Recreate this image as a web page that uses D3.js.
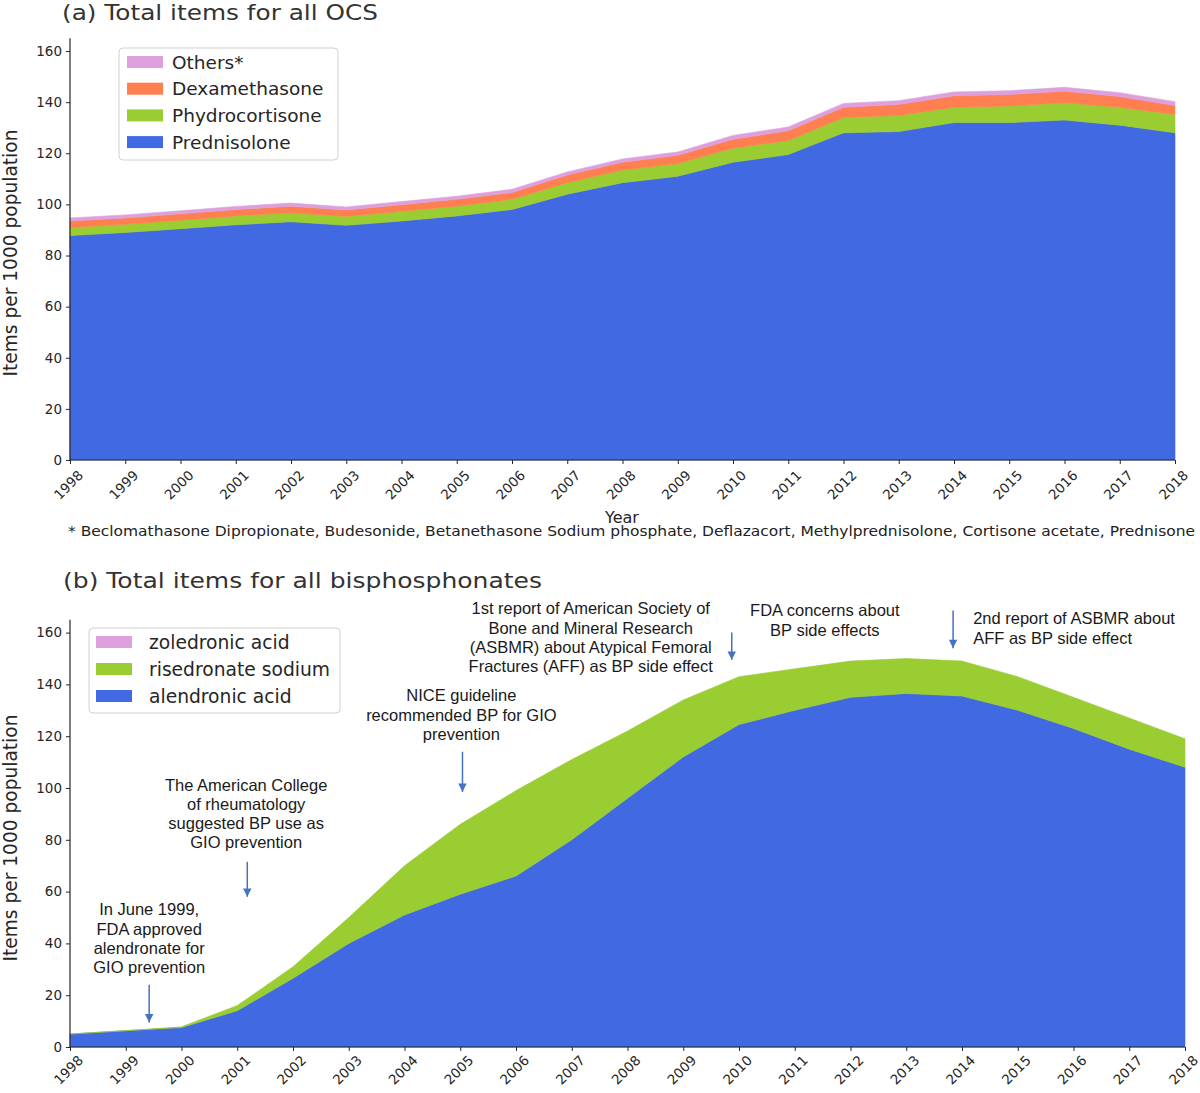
<!DOCTYPE html>
<html>
<head>
<meta charset="utf-8">
<script src="https://cdn.jsdelivr.net/npm/d3@7"></script>
<style>
  body { margin: 0; background: #fff; }
  .tick text { font-family: "DejaVu Sans", sans-serif; fill: #262626; }
  .tick line, .domain { stroke: #262626; }
  .note { font-family: "Liberation Sans", Arial, sans-serif; font-size: 16.5px; fill: #1a1a1a; }
</style>
</head>
<body>
<svg id="chart" width="1200" height="1093"></svg>
<script>
// ------------ DATA ------------
var years = [1998, 1999, 2000, 2001, 2002, 2003, 2004, 2005, 2006, 2007, 2008,
             2009, 2010, 2011, 2012, 2013, 2014, 2015, 2016, 2017, 2018];
var yTicks = [0, 20, 40, 60, 80, 100, 120, 140, 160];

// (a) oral corticosteroids, items per 1000 population
var prednisolone   = [87.8, 89, 90.5, 92, 93.2, 91.8, 93.5, 95.5, 98, 104, 108.5, 111, 116.5, 119.5, 128, 128.5, 132, 132, 133, 131, 128];
var phydrocortisone = [3.2, 3.2, 3.3, 3.5, 3.5, 3.5, 3.8, 3.8, 4, 4.5, 5, 5, 5.5, 5.5, 6, 6.3, 6, 6.5, 6.8, 7, 7.2];
var dexamethasone  = [2.5, 2.5, 2.5, 2.5, 2.6, 2.5, 2.6, 2.7, 2.7, 3, 3, 3.2, 3.5, 3.8, 4, 4.3, 4.5, 4.5, 4.5, 4.2, 3.5];
var othersOcs      = [1.2, 1.2, 1.2, 1.2, 1.2, 1.2, 1.2, 1.2, 1.2, 1.2, 1.3, 1.3, 1.5, 1.5, 1.5, 1.5, 1.5, 1.5, 1.5, 1.5, 1.5];

// (b) bisphosphonates, items per 1000 population
var alendronic  = [5, 6.3, 7.5, 14, 26.5, 40, 51, 59, 66, 80, 96, 112, 124.5, 130, 135, 136.5, 135.5, 130, 123, 115, 108];
var risedronate = [0, 0, 0.3, 2, 4.5, 10, 19, 27, 33, 31, 26, 22, 18.5, 16, 14, 13.5, 13.5, 13, 12, 12, 11];
var zoledronic  = [0, 0, 0, 0, 0, 0, 0, 0, 0, 0, 0, 0, 0, 0, 0, 0, 0, 0, 0, 0, 0];

var ocsKeys = ["Prednisolone", "Phydrocortisone", "Dexamethasone", "Others*"];
var bpKeys = ["alendronic acid", "risedronate sodium", "zoledronic acid"];

// event notes for panel (b)
var eventYears = [1999.42, 2001.18, 2005.04, 2009.87, 2013.84];
var noteLines = [
  ["In June 1999,", "FDA approved", "alendronate for", "GIO prevention"],
  ["The American College", "of rheumatology", "suggested BP use as", "GIO prevention"],
  ["NICE guideline", "recommended BP for GIO", "prevention"],
  ["1st report of American Society of", "Bone and Mineral Research", "(ASBMR) about Atypical Femoral", "Fractures (AFF) as BP side effect"],
  ["FDA concerns about", "BP side effects"],
  ["2nd report of ASBMR about", "AFF as BP side effect"]
];

var footnote = "* Beclomathasone Dipropionate, Budesonide, Betanethasone Sodium phosphate, Deflazacort, Methylprednisolone, Cortisone acetate, Prednisone";

// ------------ FORMATTING ------------
var ocsColors = ["#4169E1", "#9ACD32", "#FF7F50", "#DDA0DD"];
var bpColors = ["#4169E1", "#9ACD32", "#DDA0DD"];
var svg = d3.select("#chart");

function buildRows(cols, keys) {
  return years.map(function(y, i) {
    var row = { year: y };
    keys.forEach(function(k, j) { row[k] = cols[j][i]; });
    return row;
  });
}

function drawPanel(opts) {
  var colors = opts.colors;
  var x = d3.scaleLinear().domain([1998, 2018]).range([opts.left, opts.right]);
  var y = d3.scaleLinear().domain([0, 165]).range([opts.bottom, opts.bottom - 165 * opts.unit]);
  var rows = buildRows(opts.cols, opts.keys);
  var series = d3.stack().keys(opts.keys)(rows);

  var area = d3.area()
    .x(function(d) { return x(d.data.year); })
    .y0(function(d) { return y(d[0]); })
    .y1(function(d) { return y(d[1]); });

  svg.append("g").selectAll("path")
    .data(series)
    .enter()
    .append("path")
      .attr("d", area)
      .attr("fill", function(d, i) { return colors[i]; })
      .attr("stroke", function(d, i) { return colors[i]; })
      .attr("stroke-width", function(d) {
        return d3.max(d, function(p) { return p[1] - p[0]; }) > 0 ? 0.6 : 0;
      });

  // Left axis
  var leftAxis = d3.axisLeft(y).tickValues(yTicks).tickSize(4).tickPadding(4);
  var gl = svg.append("g")
    .attr("transform", "translate(" + opts.left + ",0)")
    .call(leftAxis);
  gl.select(".domain").attr("d", "M0," + y(165) + "V" + y(0)).attr("stroke-width", 1.2);
  gl.selectAll(".tick text").attr("font-size", "13.5px");

  // Bottom axis
  var bottomAxis = d3.axisBottom(x).tickValues(years).tickFormat(d3.format("d")).tickSize(4);
  var gb = svg.append("g")
    .attr("transform", "translate(0," + opts.bottom + ")")
    .call(bottomAxis);
  gb.select(".domain").attr("d", "M" + opts.left + ",0H" + opts.right).attr("stroke-width", 1.2);
  gb.selectAll(".tick text")
    .attr("font-size", "13.5px")
    .attr("y", 0).attr("dy", "0.35em")
    .attr("text-anchor", "middle")
    .attr("transform", "translate(-2," + opts.labelDrop + ") rotate(-45)");

  // y label
  svg.append("text")
    .attr("transform", "translate(17," + opts.yLabelMid + ") rotate(-90)")
    .attr("text-anchor", "middle")
    .attr("font-family", "DejaVu Sans, sans-serif")
    .attr("font-size", "18.6px")
    .attr("fill", "#262626")
    .text("Items per 1000 population");

  // title (stretched to the reference width)
  svg.append("text")
    .attr("x", opts.titleX).attr("y", opts.titleY)
    .attr("font-family", "DejaVu Sans, sans-serif")
    .attr("font-size", opts.titleFont)
    .attr("fill", "#333")
    .attr("textLength", opts.titleW)
    .attr("lengthAdjust", "spacingAndGlyphs")
    .text(opts.title);

  // legend (reverse order, top entry is last series)
  var lg = svg.append("g").attr("transform", "translate(" + opts.legend[0] + "," + opts.legend[1] + ")");
  lg.append("rect")
    .attr("width", opts.legend[2]).attr("height", opts.legend[3])
    .attr("rx", 4)
    .attr("fill", "#fff").attr("fill-opacity", 0.85)
    .attr("stroke", "#d0d0d0");
  var legendKeys = opts.keys.slice().reverse();
  legendKeys.forEach(function(k, i) {
    var ci = opts.keys.length - 1 - i;
    lg.append("rect")
      .attr("x", opts.patchX).attr("y", 8 + i * opts.rowH)
      .attr("width", 36).attr("height", 12)
      .attr("fill", colors[ci]);
    lg.append("text")
      .attr("x", opts.textX).attr("y", 8 + i * opts.rowH + 12.5)
      .attr("font-family", "DejaVu Sans, sans-serif")
      .attr("font-size", opts.legendFont)
      .attr("fill", "#262626")
      .text(k);
  });

  return { x: x, y: y };
}

// ------------ PANEL (a) ------------
var pa = drawPanel({
  left: 70, right: 1175, bottom: 460, unit: 2.556, labelDrop: 25,
  cols: [prednisolone, phydrocortisone, dexamethasone, othersOcs],
  keys: ocsKeys, colors: ocsColors,
  title: "(a) Total items for all OCS", titleX: 62, titleY: 20, titleFont: "21px", titleW: 316,
  yLabelMid: 253,
  legend: [119, 48, 219, 112], patchX: 8, textX: 53, rowH: 26.7, legendFont: "18.5px"
});

svg.append("text")
  .attr("x", 622).attr("y", 523)
  .attr("text-anchor", "middle")
  .attr("font-family", "DejaVu Sans, sans-serif")
  .attr("font-size", "16px")
  .attr("fill", "#262626")
  .text("Year");

svg.append("text")
  .attr("x", 68).attr("y", 536)
  .attr("font-family", "DejaVu Sans, sans-serif")
  .attr("font-size", "14px")
  .attr("fill", "#222")
  .attr("textLength", 1127)
  .attr("lengthAdjust", "spacingAndGlyphs")
  .text(footnote);

// ------------ PANEL (b) ------------
var pb = drawPanel({
  left: 70, right: 1185, bottom: 1047, unit: 2.59, labelDrop: 23,
  cols: [alendronic, risedronate, zoledronic],
  keys: bpKeys, colors: bpColors,
  title: "(b) Total items for all bisphosphonates", titleX: 63, titleY: 588, titleFont: "22px", titleW: 479,
  yLabelMid: 838,
  legend: [89, 628, 251, 85], patchX: 7, textX: 60, rowH: 27, legendFont: "18.7px"
});

// ------------ ANNOTATIONS ------------
svg.append("defs").append("marker")
  .attr("id", "head")
  .attr("viewBox", "0 0 10 10")
  .attr("refX", 5).attr("refY", 10)
  .attr("markerWidth", 7).attr("markerHeight", 7)
  .attr("orient", "0")
  .append("path")
    .attr("d", "M1,2 L5,10 L9,2 Z")
    .attr("fill", "#4472C4");

// arrow start / end values on the y scale for each event
var arrowFrom = [24, 71.5, 114, 160, 168.5];
var arrowTo   = [9.5, 58, 98.5, 149.5, 154];

svg.append("g").selectAll("line")
  .data(eventYears)
  .enter()
  .append("line")
    .attr("x1", function(d) { return pb.x(d); })
    .attr("x2", function(d) { return pb.x(d); })
    .attr("y1", function(d, i) { return pb.y(arrowFrom[i]); })
    .attr("y2", function(d, i) { return pb.y(arrowTo[i]); })
    .attr("stroke", "#4472C4")
    .attr("stroke-width", 1.5)
    .attr("marker-end", "url(#head)");

// note text anchors: [year, value of first line, anchor]
var notePos = [
  [1999.42, 50.8, "middle"],
  [2001.16, 99, "middle"],
  [2005.02, 133.5, "middle"],
  [2007.34, 167, "middle"],
  [2011.54, 166.3, "middle"],
  [2014.2, 163.2, "start"]
];

noteLines.forEach(function(lines, i) {
  var t = svg.append("text")
    .attr("class", "note")
    .attr("text-anchor", notePos[i][2]);
  lines.forEach(function(l, j) {
    t.append("tspan")
      .attr("x", pb.x(notePos[i][0]))
      .attr("y", pb.y(notePos[i][1]) + j * 19.3)
      .text(l);
  });
});
</script>
</body>
</html>
